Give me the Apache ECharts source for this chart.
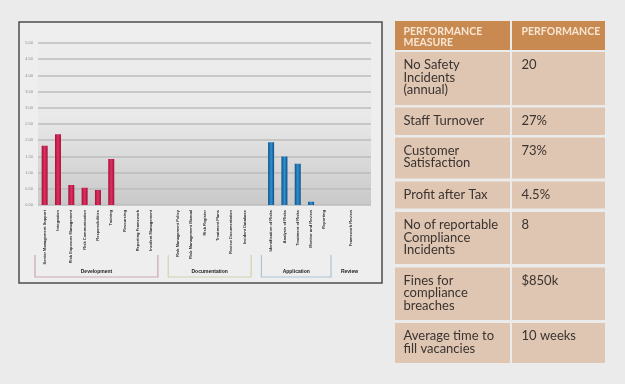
<!DOCTYPE html>
<html>
<head>
<meta charset="utf-8">
<script src="https://cdn.jsdelivr.net/npm/echarts@6/dist/echarts.min.js"></script>
<style>
html,body{margin:0;padding:0;background:#ebebeb;}
#main{width:625px;height:384px;}
</style>
</head>
<body>
<div id="main"></div>
<script>
// ---------- DATA ----------
const categories = [
  'Senior Management Support', 'Integration', 'Risk Exposure Management', 'Risk Communication',
  'Responsibilities', 'Training', 'Resourcing', 'Reporting Framework', 'Incident Management',
  ' ',
  'Risk Management Policy', 'Risk Management Manual', 'Risk Register', 'Treatment Plans',
  'Review Documentation', 'Incident Database',
  '  ',
  'Identification of Risks', 'Analysis of Risks', 'Treatment of Risks', 'Monitor and Review', 'Reporting',
  '   ',
  'Framework Review',
  '    '
];
const categoryGroups = [
  'Development','Development','Development','Development','Development','Development','Development','Development','Development',
  '',
  'Documentation','Documentation','Documentation','Documentation','Documentation','Documentation',
  '',
  'Application','Application','Application','Application','Application',
  '',
  'Review',
  ''
];
const scores = [
  1.83, 2.18, 0.62, 0.53, 0.46, 1.42, 0, 0, 0,
  null,
  0, 0, 0, 0, 0, 0,
  null,
  1.94, 1.50, 1.27, 0.10, 0,
  null,
  0,
  null
];
const yTicks = [0, 0.5, 1, 1.5, 2, 2.5, 3, 3.5, 4, 4.5, 5];

const tableHeaders = ['PERFORMANCE\nMEASURE', 'PERFORMANCE'];
const measures = [
  'No Safety\nIncidents\n(annual)', 'Staff Turnover', 'Customer\nSatisfaction', 'Profit after Tax',
  'No of reportable\nCompliance\nIncidents', 'Fines for\ncompliance\nbreaches', 'Average time to\nfill vacancies'
];
const performance = ['20', '27%', '73%', '4.5%', '8', '$850k', '10 weeks'];

// ---------- LAYOUT / STYLE ----------
const rowTops = [21, 52, 107.5, 137.5, 181.5, 212, 267.5, 323];
const rowBottoms = [50, 105, 135, 178.5, 208.5, 264, 320, 363];
const col1 = [395, 510];
const col2 = [512, 605];
const groupBoxColors = { Development: '#cba6b6', Documentation: '#d2d2b2', Application: '#abc4d4' };
const barColors = {
  Development: ['#a3103c', '#e0305f', '#a3103c'],
  Application: ['#0f4f86', '#2e92d2', '#0f4f86'],
  Documentation: ['#888', '#aaa', '#888'],
  Review: ['#888', '#aaa', '#888']
};

const chart = echarts.init(document.getElementById('main'));

const barData = scores.map((v, i) => {
  const g = categoryGroups[i];
  if (v === null || !barColors[g]) return v;
  const c = barColors[g];
  return {
    value: v,
    itemStyle: {
      color: new echarts.graphic.LinearGradient(0, 0, 1, 0, [
        { offset: 0, color: c[0] }, { offset: 0.5, color: c[1] }, { offset: 1, color: c[2] }
      ])
    }
  };
});

chart.setOption({
  backgroundColor: '#ebebeb',
  animation: false,
  grid: {
    left: 38, right: 254, top: 43, bottom: 179,
    show: true,
    borderWidth: 0,
    backgroundColor: new echarts.graphic.LinearGradient(0, 0, 0, 1, [
      { offset: 0, color: '#ededed' },
      { offset: 0.45, color: '#e9e9e9' },
      { offset: 1, color: '#c9c9c9' }
    ]),
    z: 1
  },
  xAxis: {
    type: 'category',
    data: categories,
    axisLine: { show: false },
    axisTick: { show: false },
    axisLabel: {
      interval: 0, rotate: 90, fontSize: 4, fontWeight: 'bold', color: '#2a2a2a',
      fontFamily: 'Liberation Sans', margin: 5
    },
    z: 3
  },
  yAxis: {
    type: 'value',
    min: 0, max: 5, interval: 0.5,
    axisLine: { show: false },
    axisTick: { show: false },
    axisLabel: {
      fontSize: 4, color: '#8a8a8a', margin: 5, fontFamily: 'Liberation Sans',
      formatter: v => yTicks.indexOf(v) >= 0 ? v.toFixed(2) : ''
    },
    splitLine: { lineStyle: { color: '#bdbdbd', width: 1.5 } },
    z: 3
  },
  series: [{
    type: 'bar',
    data: barData,
    barWidth: 6,
    z: 4
  }]
});

// ---------- DECORATION (frame, group brackets, table) ----------
function buildGraphics() {
  const els = [];
  // chart frame
  els.push({
    type: 'rect', z: -10, silent: true,
    shape: { x: 19, y: 22, width: 363, height: 261 },
    style: { fill: '#eeeeee', stroke: '#4d4d4d', lineWidth: 1.5 }
  });
  // group brackets from category positions
  const c0 = chart.convertToPixel({ xAxisIndex: 0 }, 0);
  const c1 = chart.convertToPixel({ xAxisIndex: 0 }, 1);
  const slot = c1 - c0;
  const groupsSeen = [];
  categoryGroups.forEach((g, i) => {
    if (!g) return;
    let grp = groupsSeen.find(x => x.name === g);
    if (!grp) { grp = { name: g, first: i, last: i }; groupsSeen.push(grp); }
    grp.last = i;
  });
  groupsSeen.forEach(grp => {
    const l = chart.convertToPixel({ xAxisIndex: 0 }, grp.first) - slot / 2 - 3;
    const r = chart.convertToPixel({ xAxisIndex: 0 }, grp.last) + slot / 2;
    const col = groupBoxColors[grp.name];
    if (col) {
      els.push({
        type: 'polyline', z: 5, silent: true,
        shape: { points: [[l, 255], [l, 277], [r, 277], [r, 255]] },
        style: { stroke: col, lineWidth: 1.2, fill: null }
      });
    }
    els.push({
      type: 'text', z: 6, silent: true,
      x: (l + r) / 2, y: 272,
      style: {
        text: grp.name, fill: '#222', font: 'bold 5px "Liberation Sans"',
        align: 'center', verticalAlign: 'middle'
      }
    });
  });
  // table
  const rows = [tableHeaders].concat(measures.map((m, i) => [m, performance[i]]));
  rows.forEach((row, ri) => {
    const top = rowTops[ri], h = rowBottoms[ri] - rowTops[ri];
    const isHead = ri === 0;
    [col1, col2].forEach((c, ci) => {
      els.push({
        type: 'rect', z: 5, silent: true,
        shape: { x: c[0], y: top, width: c[1] - c[0], height: h },
        style: { fill: isHead ? '#c98a52' : '#dfc6b2' }
      });
      els.push({
        type: 'text', z: 6, silent: true,
        x: c[0] + (ci === 0 ? 8.5 : 9.5), y: top + (isHead ? 5 : 7),
        style: {
          text: row[ci],
          fill: isHead ? '#f8e6d2' : '#3a3330',
          font: isHead ? 'bold 10.5px Lato' : '13px Lato',
          lineHeight: isHead ? 11 : 12.5,
          align: 'left', verticalAlign: 'top'
        }
      });
    });
  });
  return els;
}

chart.setOption({ graphic: { elements: buildGraphics() } });
</script>
</body>
</html>
